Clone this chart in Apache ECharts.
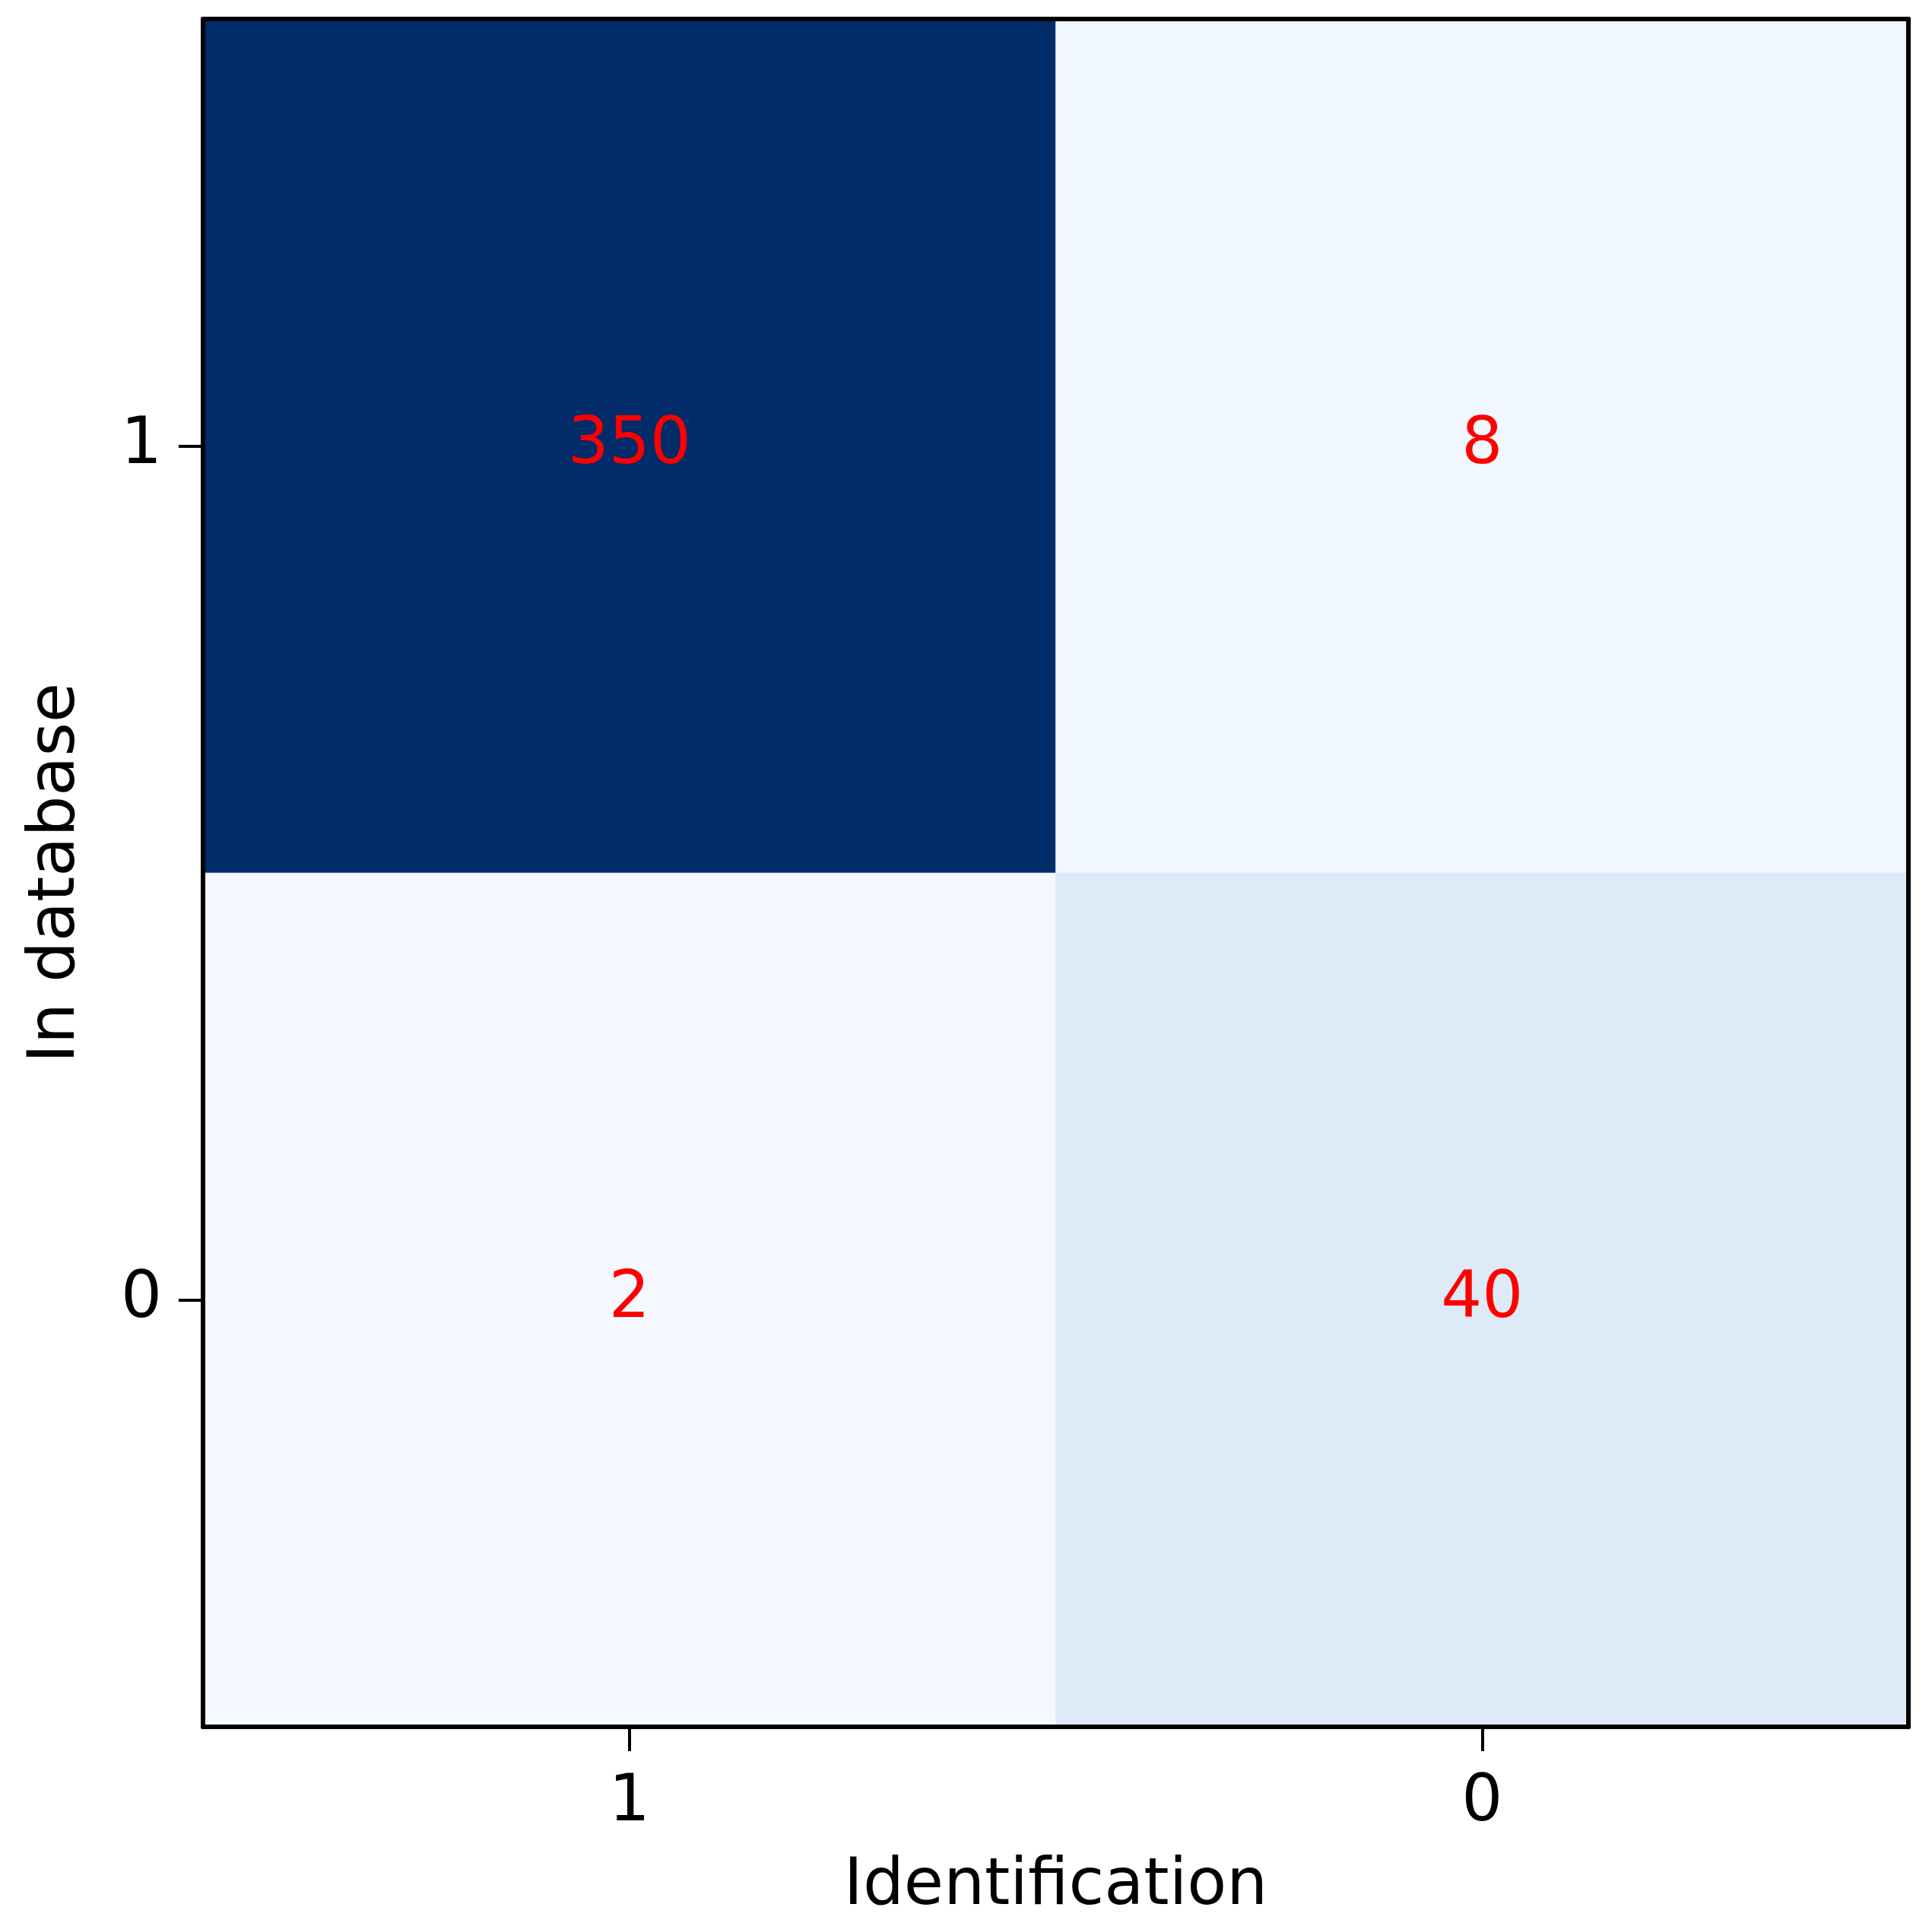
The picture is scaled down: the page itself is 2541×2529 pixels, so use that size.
<!DOCTYPE html>
<html>
<head>
<meta charset="utf-8">
<script src="https://cdn.jsdelivr.net/npm/echarts@6/dist/echarts.min.js"></script>
<style>
html,body{margin:0;padding:0;background:#ffffff;}
#chart{width:2541px;height:2529px;}
</style>
</head>
<body>
<div id="chart"></div>
<script>
// Confusion matrix data
const xCategories = ['1', '0'];          // Identification
const yCategories = ['0', '1'];          // In database (bottom to top)
const rowIn1 = [350, 8];                 // In database = 1, Identification = 1, 0
const rowIn0 = [2, 40];                  // In database = 0, Identification = 1, 0
const xName = 'Identification';
const yName = 'In database';

const cells = [];
xCategories.forEach(function (xc, i) {
  cells.push([i, yCategories.indexOf('1'), rowIn1[i]]);
  cells.push([i, yCategories.indexOf('0'), rowIn0[i]]);
});

const font = 'DejaVu Sans';
const fs = 85;
const lineW = 6;

const chart = echarts.init(document.getElementById('chart'), null, {renderer: 'canvas'});
chart.setOption({
  backgroundColor: '#ffffff',
  animation: false,
  grid: {left: 267, top: 25, width: 2243, height: 2247, containLabel: false},
  visualMap: {
    show: false,
    type: 'continuous',
    min: 0,
    max: 350,
    dimension: 2,
    inRange: {
      color: ['#f6faff', '#dbeaf7', '#c6dbef', '#9ecae1', '#6baed6', '#4292c6', '#2171b5', '#08519c', '#022b69']
    }
  },
  xAxis: [{
    type: 'category',
    data: xCategories,
    position: 'bottom',
    z: 5,
    name: xName,
    nameLocation: 'middle',
    nameGap: 168,
    nameTextStyle: {fontFamily: font, fontSize: fs, color: '#000'},
    axisLine: {show: true, lineStyle: {color: '#000', width: lineW}},
    axisTick: {show: true, alignWithLabel: true, length: 32, lineStyle: {color: '#000', width: 4}},
    axisLabel: {fontFamily: font, fontSize: fs, color: '#000', margin: 58},
    splitLine: {show: false}
  }, {
    type: 'category',
    data: xCategories,
    position: 'top',
    z: 5,
    axisLine: {show: true, lineStyle: {color: '#000', width: lineW}},
    axisTick: {show: false},
    axisLabel: {show: false},
    splitLine: {show: false}
  }],
  yAxis: [{
    type: 'category',
    data: yCategories,
    position: 'left',
    z: 5,
    name: yName,
    nameLocation: 'middle',
    nameGap: 150,
    nameRotate: 90,
    nameTextStyle: {fontFamily: font, fontSize: fs, color: '#000'},
    axisLine: {show: true, lineStyle: {color: '#000', width: lineW}},
    axisTick: {show: true, alignWithLabel: true, length: 32, lineStyle: {color: '#000', width: 4}},
    axisLabel: {fontFamily: font, fontSize: fs, color: '#000', margin: 54},
    splitLine: {show: false}
  }, {
    type: 'category',
    data: yCategories,
    position: 'right',
    z: 5,
    axisLine: {show: true, lineStyle: {color: '#000', width: lineW}},
    axisTick: {show: false},
    axisLabel: {show: false},
    splitLine: {show: false}
  }],
  series: [{
    type: 'heatmap',
    xAxisIndex: 0,
    yAxisIndex: 0,
    data: cells,
    label: {
      show: true,
      color: '#ff0000',
      fontFamily: font,
      fontSize: fs,
      formatter: function (p) { return String(p.value[2]); }
    },
    itemStyle: {borderWidth: 0},
    emphasis: {disabled: true}
  }]
});
</script>
</body>
</html>
